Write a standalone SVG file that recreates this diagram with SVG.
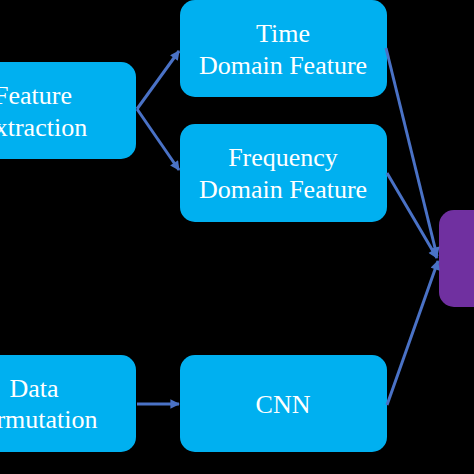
<svg xmlns="http://www.w3.org/2000/svg" width="474" height="474" viewBox="0 0 474 474">
<defs>
<marker id="ah" viewBox="0 0 10 10" refX="9" refY="5" markerWidth="3.6" markerHeight="3.2" orient="auto" markerUnits="strokeWidth">
<path d="M0,0 L10,5 L0,10 Z" fill="#4A72C6"/>
</marker>
</defs>
<style>
.box{fill:#00B0F0}
.pbox{fill:#7030A0}
.t{font-family:"Liberation Serif","Times New Roman",serif;font-size:26px;fill:#FFFFFF;text-anchor:middle}
.c{stroke:#4A72C6;stroke-width:3;fill:none;marker-end:url(#ah)}
</style>
<rect width="474" height="474" fill="#000000"/>
<g id="feature-extraction">
<rect class="box" x="-70" y="62" width="206" height="97" rx="15"/>
<text class="t" x="33" y="104">Feature</text>
<text class="t" x="33" y="136">Extraction</text>
</g>
<g id="data-permutation">
<rect class="box" x="-70" y="355" width="206" height="97" rx="15"/>
<text class="t" x="34" y="397">Data</text>
<text class="t" x="34" y="428">Permutation</text>
</g>
<g id="time-domain">
<rect class="box" x="180" y="0" width="207" height="97" rx="15"/>
<text class="t" x="283" y="42">Time</text>
<text class="t" x="283" y="74">Domain Feature</text>
</g>
<g id="frequency-domain">
<rect class="box" x="180" y="124" width="207" height="98" rx="15"/>
<text class="t" x="283" y="166">Frequency</text>
<text class="t" x="283" y="198">Domain Feature</text>
</g>
<g id="cnn">
<rect class="box" x="180" y="355" width="207" height="97" rx="15"/>
<text class="t" x="283" y="413">CNN</text>
</g>
<g id="output">
<rect class="pbox" x="439" y="210" width="60" height="97" rx="15"/>
</g>
<g id="connectors">
<line class="c" x1="137" y1="109" x2="179" y2="51"/>
<line class="c" x1="137" y1="109" x2="179" y2="170"/>
<line class="c" x1="137" y1="404" x2="179" y2="404"/>
<line class="c" x1="386" y1="48" x2="437" y2="256"/>
<line class="c" x1="387" y1="173" x2="437" y2="258"/>
<line class="c" x1="387" y1="405" x2="438" y2="261"/>
</g>
</svg>
